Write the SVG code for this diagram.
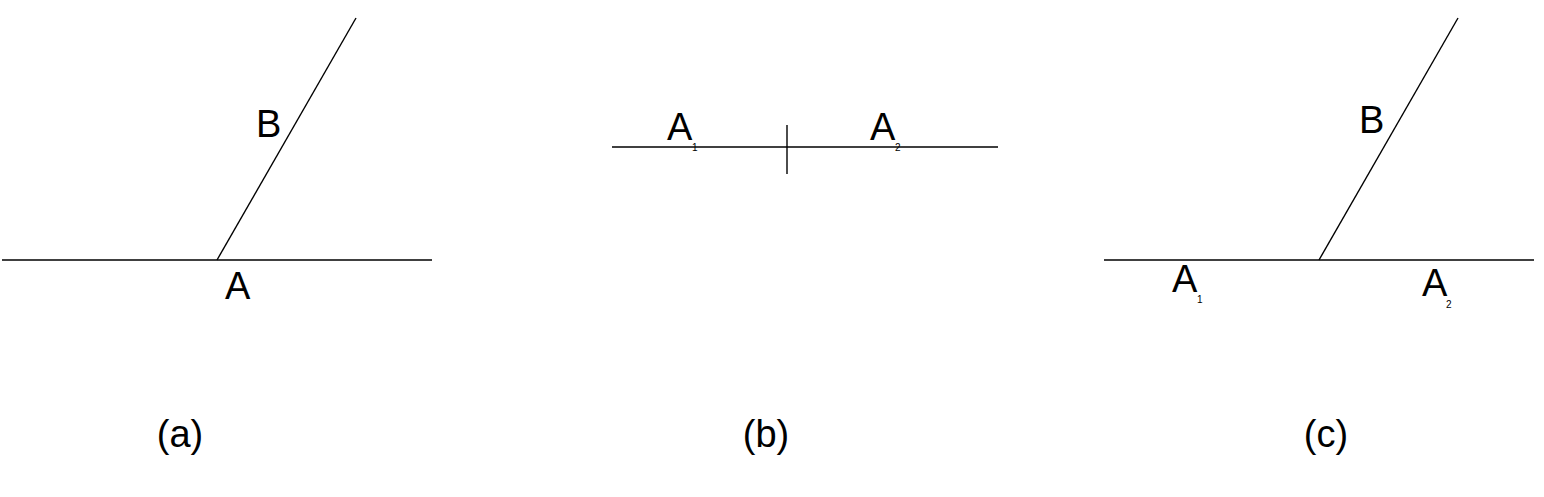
<svg xmlns="http://www.w3.org/2000/svg" width="1544" height="497" viewBox="0 0 1544 497">
<style>
.ln{stroke:#000;stroke-width:1.4;fill:none}
.t{font-family:"Liberation Sans",Arial,sans-serif;font-size:38px;fill:#000}
.s{font-family:"Liberation Sans",Arial,sans-serif;font-size:10px;fill:#000}
</style>
<rect width="1544" height="497" fill="#fff"/>
<g id="connectors">
<line class="ln" x1="2" y1="260" x2="432" y2="260"/>
<line class="ln" x1="217" y1="260" x2="356" y2="18"/>
<line class="ln" x1="612" y1="147" x2="998" y2="147"/>
<line class="ln" x1="787" y1="125" x2="787" y2="174"/>
<line class="ln" x1="1104" y1="260" x2="1534" y2="260"/>
<line class="ln" x1="1319" y1="260" x2="1458" y2="18"/>
</g>
<g id="a">
<text class="t" x="256" y="137">B</text>
<text class="t" x="225" y="299">A</text>
<text class="t" x="180" y="447" text-anchor="middle">(a)</text>
</g>
<g id="b">
<text class="t" x="667" y="140">A</text>
<text class="s" x="692" y="151">1</text>
<text class="t" x="870" y="140">A</text>
<text class="s" x="895" y="151">2</text>
<text class="t" x="766" y="447" text-anchor="middle">(b)</text>
</g>
<g id="c">
<text class="t" x="1359" y="133">B</text>
<text class="t" x="1172" y="292">A</text>
<text class="s" x="1197" y="303">1</text>
<text class="t" x="1422" y="296">A</text>
<text class="s" x="1446" y="308">2</text>
<text class="t" x="1326" y="447" text-anchor="middle">(c)</text>
</g>
</svg>
